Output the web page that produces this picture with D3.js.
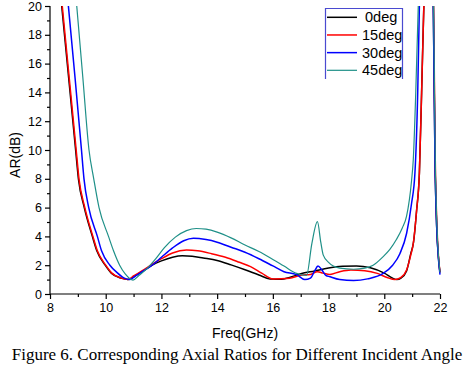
<!DOCTYPE html>
<html>
<head>
<meta charset="utf-8">
<script src="https://cdn.jsdelivr.net/npm/d3@7"></script>
<style>
  html, body { margin: 0; padding: 0; background: #fff; overflow: hidden; }
  svg { display: block; }
</style>
</head>
<body>
<svg id="chart" width="474" height="366"></svg>
<script>
// ---- data (frequency GHz, AR dB) ----
const seriesNames = ["0deg", "15deg", "30deg", "45deg"];
const seriesColors = ["#000000", "#ff0000", "#0000ff", "#1f9088"];
const xTickValues = [8, 10, 12, 14, 16, 18, 20, 22];
const yTickValues = [0, 2, 4, 6, 8, 10, 12, 14, 16, 18, 20];

const deg0 = [[8.42,20],[8.67,15],[8.92,10],[9.02,8],[9.23,6],[9.52,4],[9.68,3],[9.98,2],[10.2,1.45],[10.55,1.1],[10.8,1.0],[11.0,1.2],[11.3,1.55],[11.7,2.05],[12.0,2.3],[12.4,2.55],[12.75,2.65],[13.1,2.62],[13.5,2.5],[14.0,2.33],[14.5,2.02],[15.0,1.68],[15.5,1.32],[15.9,1.05],[16.3,1.02],[16.6,1.15],[17.0,1.4],[17.5,1.6],[18.0,1.8],[18.5,1.92],[19.0,1.95],[19.5,1.82],[20.0,1.45],[20.3,1.1],[20.45,1.0],[20.6,1.1],[20.8,1.6],[20.95,2.8],[21.05,3.6],[21.16,5.8],[21.26,8.4],[21.34,14],[21.42,20],[21.55,26],[21.68,26],[21.76,20],[21.82,9.3],[21.88,4.7],[21.95,2.4],[22.0,1.5]];
const deg15 = [[8.44,20],[8.69,15],[8.94,10],[9.04,8],[9.25,6],[9.54,4],[9.7,3],[10.0,2],[10.22,1.45],[10.56,1.1],[10.8,1.0],[11.0,1.25],[11.3,1.6],[11.7,2.1],[12.0,2.45],[12.4,2.85],[12.9,3.05],[13.3,3.0],[13.8,2.8],[14.3,2.55],[14.8,2.2],[15.2,1.9],[15.6,1.45],[16.0,1.05],[16.3,1.06],[16.6,1.1],[17.0,1.3],[17.35,1.36],[17.6,1.55],[17.8,1.45],[18.05,1.36],[18.4,1.55],[18.8,1.67],[19.3,1.62],[19.75,1.43],[20.1,1.15],[20.38,1.0],[20.6,1.15],[20.8,1.67],[20.95,2.7],[21.04,3.5],[21.16,5.8],[21.26,8.4],[21.34,14],[21.42,20],[21.55,26],[21.68,26],[21.77,20],[21.83,9.3],[21.89,4.7],[21.95,2.5],[22.0,1.5]];
const deg30 = [[8.66,20],[8.9,15],[9.13,10],[9.22,8],[9.39,6],[9.7,4],[9.85,3],[10.15,2],[10.4,1.5],[10.65,1.12],[10.85,1.0],[11.1,1.3],[11.4,1.65],[11.7,2.05],[12.0,2.55],[12.4,3.2],[12.8,3.7],[13.15,3.87],[13.6,3.78],[14.0,3.6],[14.5,3.25],[15.0,2.9],[15.5,2.45],[16.0,1.95],[16.4,1.55],[16.85,1.35],[17.15,1.0],[17.35,1.1],[17.5,1.6],[17.62,1.94],[17.75,1.7],[17.9,1.3],[18.05,1.2],[18.4,1.0],[18.9,0.93],[19.4,1.05],[19.96,1.43],[20.3,2.0],[20.56,2.8],[20.8,4.2],[20.98,6.3],[21.1,8.4],[21.2,14],[21.26,20],[21.45,28],[21.65,28],[21.76,20],[21.82,9.3],[21.88,4.7],[21.95,2.3],[22.0,1.35]];
const deg45 = [[8.96,20],[9.18,15],[9.4,10],[9.57,8],[9.76,6],[10.1,4],[10.28,3],[10.5,2],[10.7,1.4],[10.98,0.97],[11.2,1.3],[11.5,1.8],[11.8,2.45],[12.1,3.2],[12.5,3.95],[12.9,4.4],[13.25,4.55],[13.6,4.5],[14.0,4.3],[14.5,3.9],[15.0,3.4],[15.5,2.95],[16.0,2.4],[16.4,1.94],[16.85,1.43],[17.21,1.3],[17.4,3.5],[17.6,5.02],[17.72,3.6],[17.81,2.7],[18.0,2.2],[18.17,1.94],[18.4,1.8],[18.9,1.72],[19.3,1.8],[19.6,2.0],[19.96,2.6],[20.2,3.1],[20.44,3.8],[20.65,4.6],[20.8,5.4],[20.98,7.9],[21.04,9.3],[21.13,14],[21.22,20],[21.45,28],[21.65,28],[21.77,20],[21.83,9.3],[21.89,4.7],[21.95,2.5],[22.0,1.5]];
const seriesData = [deg0, deg15, deg30, deg45];

// ---- layout ----
const svg = d3.select("#chart");
const mLeft = 50, mRight = 440, mTop = 6, mBottom = 294;
const x = d3.scaleLinear().domain([8, 22]).range([mLeft, mRight]);
const y = d3.scaleLinear().domain([0, 20]).range([mBottom, mTop]);
const font = "Arial, 'Liberation Sans', sans-serif";

svg.append("defs").append("clipPath").attr("id", "plotclip")
  .append("rect").attr("x", mLeft).attr("y", mTop).attr("width", mRight - mLeft + 2).attr("height", mBottom - mTop);

// ---- curves ----
const line = d3.line().x(d => x(d[0])).y(d => y(d[1])).curve(d3.curveMonotoneX);
const widths = [1.5, 1.5, 1.5, 1.2];
const g = svg.append("g").attr("clip-path", "url(#plotclip)");
seriesData.forEach((s, i) => {
  g.append("path").datum(s).attr("d", line)
    .attr("fill", "none").attr("stroke", seriesColors[i]).attr("stroke-width", widths[i])
    .attr("stroke-linejoin", "round");
});

// ---- axes ----
const xAxis = d3.axisBottom(x).tickValues(xTickValues).tickSize(5).tickPadding(4).tickFormat(d3.format("d"));
const xMinor = d3.axisBottom(x).tickValues(d3.range(9, 22, 2)).tickSize(3).tickFormat("");
const yAxis = d3.axisLeft(y).tickValues(yTickValues).tickSize(5).tickPadding(3).tickFormat(d3.format("d"));
const yMinor = d3.axisLeft(y).tickValues(d3.range(1, 20, 2)).tickSize(3).tickFormat("");

function styleAxis(sel) {
  sel.selectAll("path.domain").attr("stroke", "#000").attr("stroke-width", 1.2);
  sel.selectAll("line").attr("stroke", "#000").attr("stroke-width", 1.2);
  sel.selectAll("text").attr("fill", "#000").style("font-family", font).style("font-size", "12.5px");
}
svg.append("g").attr("transform", `translate(0,${mBottom})`).call(xMinor).call(styleAxis)
  .select("path.domain").remove();
svg.append("g").attr("transform", `translate(0,${mBottom})`).call(xAxis).call(styleAxis)
  .selectAll("path.domain").attr("d", `M${mLeft},0H${mRight}`);
svg.append("g").attr("transform", `translate(${mLeft},0)`).call(yMinor).call(styleAxis)
  .select("path.domain").remove();
svg.append("g").attr("transform", `translate(${mLeft},0)`).call(yAxis).call(styleAxis)
  .selectAll("path.domain").attr("d", `M0,${mBottom}V${mTop}`);

// ---- axis titles ----
svg.append("text").attr("x", 245).attr("y", 338).attr("text-anchor", "middle")
  .style("font-family", font).style("font-size", "14px").text("Freq(GHz)");
svg.append("text").attr("transform", "translate(20,155) rotate(-90)").attr("text-anchor", "middle")
  .style("font-family", font).style("font-size", "14px").text("AR(dB)");

// ---- legend ----
const lg = svg.append("g");
lg.append("path").attr("d", "M325.5,79V8.5H402.5V79").attr("fill", "none")
  .attr("stroke", "#4a4ad0").attr("stroke-width", 1.2);
seriesNames.forEach((n, i) => {
  const cy = 17.3 + i * 17.67;
  lg.append("line").attr("x1", 327).attr("x2", 357).attr("y1", cy).attr("y2", cy)
    .attr("stroke", seriesColors[i]).attr("stroke-width", widths[i]);
  lg.append("text").attr("x", i === 0 ? 365 : 362).attr("y", cy + 5)
    .style("font-family", font).style("font-size", "14.5px").text(n);
});

// ---- caption ----
svg.append("text").attr("x", 237).attr("y", 360).attr("text-anchor", "middle")
  .style("font-family", "'Liberation Serif', 'Times New Roman', serif").style("font-size", "17px")
  .text("Figure 6. Corresponding Axial Ratios for Different Incident Angle");
</script>
</body>
</html>
